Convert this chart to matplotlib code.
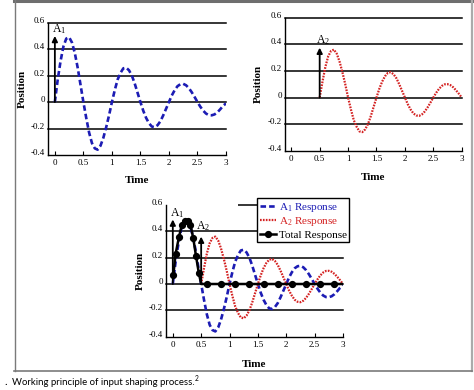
import matplotlib
matplotlib.use('Agg')
import matplotlib.pyplot as plt
import matplotlib.transforms as mtransforms
from matplotlib.lines import Line2D

plt.rcParams['font.family'] = 'Liberation Serif'
plt.rcParams['mathtext.fontset'] = 'custom'
plt.rcParams['mathtext.rm'] = 'Liberation Serif'
plt.rcParams['mathtext.it'] = 'Liberation Serif:italic'
plt.rcParams['lines.scale_dashes'] = False

# time samples and responses
t_a1 = [0.0, 0.05, 0.1, 0.15, 0.2, 0.25, 0.3, 0.35, 0.4, 0.45,
        0.5, 0.55, 0.6, 0.65, 0.7, 0.75, 0.8, 0.85, 0.9, 0.95,
        1.0, 1.05, 1.1, 1.15, 1.2, 1.25, 1.3, 1.35, 1.4, 1.45,
        1.5, 1.55, 1.6, 1.65, 1.7, 1.75, 1.8, 1.85, 1.9, 1.95,
        2.0, 2.05, 2.1, 2.15, 2.2, 2.25, 2.3, 2.35, 2.4, 2.45,
        2.5, 2.55, 2.6, 2.65, 2.7, 2.75, 2.8, 2.85, 2.9, 2.95, 3.0]
a1_pos = [0.00, 0.17, 0.31, 0.42, 0.48, 0.49, 0.45, 0.37, 0.26, 0.13,
          0.00, -0.12, -0.23, -0.31, -0.35, -0.36, -0.33, -0.27, -0.19, -0.10,
          0.00, 0.09, 0.17, 0.22, 0.255, 0.26, 0.24, 0.20, 0.14, 0.07,
          0.00, -0.066, -0.12, -0.16, -0.185, -0.19, -0.175, -0.145, -0.10, -0.05,
          0.00, 0.05, 0.09, 0.12, 0.135, 0.138, 0.127, 0.105, 0.074, 0.038,
          0.00, -0.035, -0.065, -0.087, -0.099, -0.10, -0.093, -0.077, -0.054, -0.028,
          -0.01]
t_a2 = t_a1[10:]
a2_pos = [0.00, 0.12, 0.23, 0.31, 0.35, 0.36, 0.33, 0.27, 0.19, 0.10,
          0.00, -0.09, -0.17, -0.22, -0.255, -0.26, -0.24, -0.20, -0.14, -0.07,
          0.00, 0.066, 0.12, 0.16, 0.185, 0.19, 0.175, 0.145, 0.10, 0.05,
          0.00, -0.05, -0.09, -0.12, -0.135, -0.138, -0.127, -0.105, -0.074, -0.038,
          0.00, 0.035, 0.065, 0.087, 0.099, 0.10, 0.093, 0.077, 0.054, 0.028, 0.00]
t_total = [0.01, 0.05, 0.11, 0.16, 0.21, 0.26, 0.31, 0.36, 0.41, 0.46, 0.5,
           0.6, 0.85, 1.1, 1.35, 1.6, 1.85, 2.1, 2.35, 2.6, 2.85, 3.0]
total_pos = [0.07, 0.23, 0.36, 0.45, 0.48, 0.48, 0.45, 0.35, 0.21, 0.08, 0.0,
             0, 0, 0, 0, 0, 0, 0, 0, 0, 0, 0]
total_marks = [0, 1, 2, 3, 4, 5, 6, 7, 8, 9, 11, 12, 13, 14, 15, 16, 17, 18, 19, 20]

# impulse heights (arrows)
a1_imp = 0.5
a2_imp = 0.375

xticks = [0, 0.5, 1, 1.5, 2, 2.5, 3]
xtick_labels = ['0', '0.5', '1', '1.5', '2', '2.5', '3']
yticks = [-0.4, -0.2, 0, 0.2, 0.4, 0.6]
ytick_labels = ['-0.4', '-0.2', '0', '0.2', '0.4', '0.6']

blue = '#1c1cb4'
red = '#d42222'

fig = plt.figure(figsize=(4.74, 3.90), dpi=100)


def setup(ax, xmin, levels, ylab_x, xlab_y):
    ax.set_xlim(xmin, 3)
    ax.set_ylim(-0.4, 0.6)
    for lv in levels:
        ax.axhline(lv, color='k', lw=1.1, zorder=1, clip_on=False)
    for s in ['top', 'right']:
        ax.spines[s].set_visible(False)
    for s in ['left', 'bottom']:
        ax.spines[s].set_linewidth(1.0)
    ax.set_xticks(xticks)
    ax.set_xticklabels(xtick_labels)
    ax.set_yticks(yticks)
    ax.set_yticklabels(ytick_labels)
    ax.tick_params(direction='in', length=3, width=0.8, labelsize=6.5, pad=3)
    ax.tick_params(axis='y', length=0, pad=2)
    off = mtransforms.ScaledTranslation(0, 3 / 100, fig.dpi_scale_trans)
    for lab in ax.get_yticklabels():
        lab.set_transform(lab.get_transform() + off)
    ax.set_ylabel('Position', fontsize=8, fontweight='bold')
    ax.set_xlabel('Time', fontsize=8, fontweight='bold')
    ax.yaxis.set_label_coords(ylab_x, 0.5)
    ax.xaxis.set_label_coords(0.5, xlab_y)
    ax.patch.set_alpha(0)


def impulse(ax, x, h, label, lx, ly):
    ax.annotate('', xy=(x, h), xytext=(x, 0),
                arrowprops=dict(arrowstyle='-|>', color='k', lw=1.3,
                                mutation_scale=8, shrinkA=0, shrinkB=0),
                zorder=5)
    ax.text(lx, ly, label, fontsize=8.5, ha='center', va='center', zorder=6)


# top left: A1 response
ax1 = fig.add_axes([0.1013, 0.6026, 0.3755, 0.3392])
setup(ax1, -0.12, [0.6, 0.4, 0.2, 0, -0.2], -0.118, -0.16)
ax1.plot(t_a1, a1_pos, color=blue, lw=1.9, dashes=(4, 2.2), zorder=3)
impulse(ax1, 0, a1_imp, r'$\mathrm{A}_1$', 0.07, 0.555)

# top right: A2 response
ax2 = fig.add_axes([0.6013, 0.6136, 0.3728, 0.341])
setup(ax2, -0.11, [0.6, 0.4, 0.2, 0, -0.2], -0.126, -0.17)
ax2.plot(t_a2, a2_pos, color=red, lw=1.6, dashes=(1.2, 0.9), zorder=3)
impulse(ax2, 0.5, a2_imp, r'$\mathrm{A}_2$', 0.56, 0.43)

# bottom: combined
ax3 = fig.add_axes([0.3502, 0.1367, 0.3734, 0.3377])
setup(ax3, -0.12, [0.4, 0.2, 0, -0.2], -0.119, -0.177)
ax3.hlines(0.6, 1.15, 1.5, color='k', lw=1.1, zorder=1, clip_on=False)
ax3.plot(t_a1, a1_pos, color=blue, lw=1.9, dashes=(4, 2.2), zorder=3,
         label=r'$\mathrm{A}_1$ Response')
ax3.plot(t_a2, a2_pos, color=red, lw=1.6, dashes=(1.2, 0.9), zorder=3,
         label=r'$\mathrm{A}_2$ Response')
ax3.plot(t_total, total_pos, color='k', lw=1.8, marker='o', markersize=4.2,
         markevery=total_marks, zorder=4, label='Total Response')
impulse(ax3, 0, 0.49, r'$\mathrm{A}_1$', 0.07, 0.54)
impulse(ax3, 0.5, 0.36, r'$\mathrm{A}_2$', 0.54, 0.44)
leg = ax3.legend(loc='upper left', bbox_to_anchor=(0.514, 1.055), fontsize=8,
                 frameon=True, fancybox=False, framealpha=1, edgecolor='k',
                 handlelength=1.5, handletextpad=0.2, labelspacing=0.15,
                 borderpad=0.25, borderaxespad=0)
leg.get_frame().set_linewidth(1.0)
leg.set_zorder(10)
for txt, c in zip(leg.get_texts(), [blue, red, 'k']):
    txt.set_color(c)

# figure frame
W, H = 474.0, 390.0
fig.add_artist(Line2D([14 / W, 1], [1 - 1 / H, 1 - 1 / H], color='#6e6e6e', lw=2.2))
fig.add_artist(Line2D([14.5 / W, 14.5 / W], [1, 1 - 371 / H], color='#7a7a7a', lw=1.0))
fig.add_artist(Line2D([472 / W, 472 / W], [1, 1 - 371 / H], color='#ababab', lw=1.6))
fig.add_artist(Line2D([14 / W, 472 / W], [1 - 371 / H, 1 - 371 / H], color='#7a7a7a', lw=1.2))

# caption
fig.text(4 / W, 1 - 385 / H, '.', fontsize=8, family='Lato', va='baseline')
cap = fig.text(12 / W, 1 - 385 / H, 'Working principle of input shaping process.',
               fontsize=6.9, family='Lato', va='baseline')
ax3.annotate('2', xy=(1, 0.95), xycoords=cap, fontsize=4.8, family='Lato',
             ha='left', va='center', annotation_clip=False)

fig.savefig('out.png', dpi=100)
